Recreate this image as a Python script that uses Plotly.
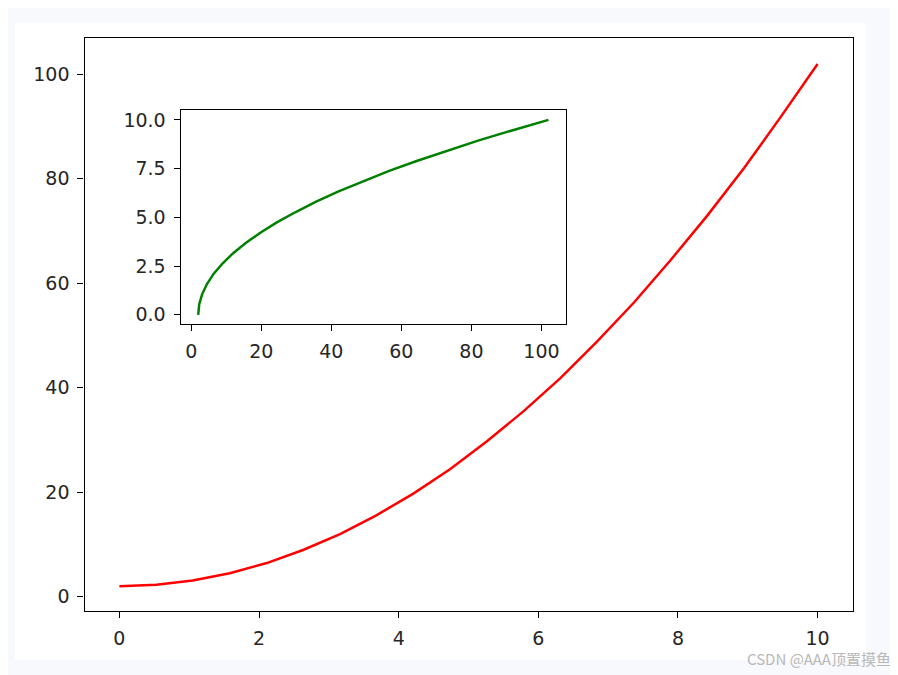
import plotly.graph_objects as go

# values
x_vals = [0.0, 0.53, 1.05, 1.58, 2.11, 2.63, 3.16, 3.68, 4.21, 4.74,
          5.26, 5.79, 6.32, 6.84, 7.37, 7.89, 8.42, 8.95, 9.47, 10.0]
y_vals = [2.0, 2.28, 3.11, 4.49, 6.43, 8.93, 11.97, 15.57, 19.73, 24.44,
          29.7, 35.52, 41.9, 48.83, 56.32, 64.36, 72.96, 82.11, 91.82, 102.0]

main_xticks = [0, 2, 4, 6, 8, 10]
main_yticks = [0, 20, 40, 60, 80, 100]
inset_xticks = [0, 20, 40, 60, 80, 100]
inset_yticks = [0.0, 2.5, 5.0, 7.5, 10.0]
inset_yticklabels = ["0.0", "2.5", "5.0", "7.5", "10.0"]

# the page body has an 8px margin, so the figure is laid out in that frame
OFF = 8
W, H = 898 - OFF, 675 - OFF
FONT = dict(family="DejaVu Sans", size=19, color="#262626")


def px(x):
    return (x - OFF) / W


def py(y):
    return 1 - (y - OFF) / H


fig = go.Figure()
fig.add_trace(go.Scatter(x=x_vals, y=y_vals, mode="lines",
                         line=dict(color="red", width=2.5),
                         xaxis="x", yaxis="y", showlegend=False))
fig.add_trace(go.Scatter(x=y_vals, y=x_vals, mode="lines",
                         line=dict(color="green", width=2.5),
                         xaxis="x2", yaxis="y2", showlegend=False))

axis_style = dict(showgrid=False, zeroline=False, showline=True, mirror=True,
                  linecolor="black", linewidth=1.4, ticks="outside",
                  ticklen=6, tickwidth=1.4, tickcolor="black",
                  tickfont=FONT, ticklabelstandoff=4)

fig.update_layout(
    width=W, height=H,
    margin=dict(l=0, r=0, t=0, b=0),
    paper_bgcolor="#f8f9fc", plot_bgcolor="white",
    xaxis=dict(axis_style, domain=[px(84.5), px(852.5)], range=[-0.5, 10.5],
               tickvals=main_xticks, anchor="y"),
    yaxis=dict(axis_style, domain=[py(612.3), py(36.7)], range=[-2.67, 107.05],
               tickvals=main_yticks, anchor="x"),
    xaxis2=dict(axis_style, domain=[px(180.7), px(566)], range=[-3.0, 107.0],
                tickvals=inset_xticks, anchor="y2"),
    yaxis2=dict(axis_style, domain=[py(324), py(109)], range=[-0.45, 10.53],
                tickvals=inset_yticks, ticktext=inset_yticklabels, anchor="x2"),
    shapes=[dict(type="rect", xref="paper", yref="paper", layer="below",
                 x0=px(15), x1=px(866), y0=py(662), y1=py(22),
                 fillcolor="white", line=dict(width=0))],
    annotations=[dict(text="CSDN @AAA顶置摸鱼", xref="paper", yref="paper",
                      x=px(893), y=py(660), xanchor="right", yanchor="middle",
                      showarrow=False,
                      font=dict(family="Noto Sans CJK SC", size=15, color="#b8b8b8"))],
)

fig.write_html("out.html")
